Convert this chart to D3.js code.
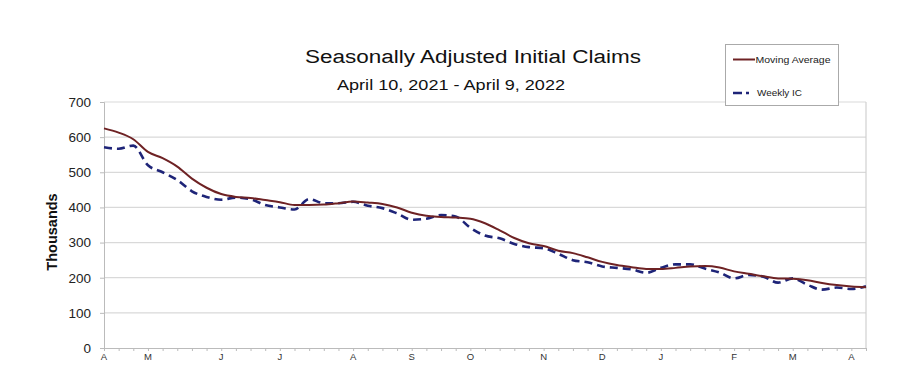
<!DOCTYPE html>
<html><head><meta charset="utf-8">
<script src="https://cdn.jsdelivr.net/npm/d3@7"></script>
<style>body{margin:0;background:#fff}svg{display:block;font-family:"Liberation Sans",Arial,sans-serif}</style>
</head><body><svg id="c" width="900" height="374"></svg>
<script>
const title = "Seasonally Adjusted Initial Claims";
const subtitle = "April 10, 2021 - April 9, 2022";
const yLabel = "Thousands";
const weeks = d3.range(53); // week index 0 = Apr 10 2021 ... 52 = Apr 9 2022
const movingAverage = [625,613,594,558,540,516,482,456,438,430,427,421,415,407,407,408,412,417,414,410,400,385,376,373,371,368,355,335,313,298,290,277,270,258,245,236,230,225,225,228,232,233,229,218,211,204,198,197,193,185,179,175,173];
const weeklyIC = [571,567,576,520,500,478,446,430,422,428,423,407,400,394,424,412,412,416,405,398,383,365,368,378,374,342,320,312,296,287,284,268,250,244,232,228,224,214,228,238,238,226,215,198,208,203,186,198,180,166,172,168,176];
const monthLabels = ["A","M","J","J","A","S","O","N","D","J","F","M","A"];
const monthWeekIdx = [0,3,8,12,17,21,25,30,34,38,43,47,51];
const yTicks = [0,100,200,300,400,500,600,700];
const legendLabels = ["Moving Average","Weekly IC"];

const svg = d3.select("#c");
const x = d3.scaleLinear().domain([0,52]).range([104,866]);
const y = d3.scaleLinear().domain([0,700]).range([348,102]);

// gridlines
svg.append("g").selectAll("line").data(yTicks.filter(d=>d>0)).join("line")
  .attr("x1",104).attr("x2",866).attr("y1",d=>y(d)).attr("y2",d=>y(d))
  .attr("stroke","#d9d9d9").attr("stroke-width",1.2);
svg.append("line").attr("x1",866).attr("x2",866).attr("y1",102).attr("y2",348).attr("stroke","#d0d0d0").attr("stroke-width",1.2);

// y axis
const ya = svg.append("g").attr("transform","translate(104,0)")
  .call(d3.axisLeft(y).tickValues(yTicks).tickSize(4).tickPadding(9));
ya.select(".domain").attr("stroke","#bbb");
ya.selectAll(".tick line").attr("stroke","#bbb");
ya.selectAll("text").attr("font-size",13.5).attr("fill","#222");

// x axis weekly ticks
const xa = svg.append("g").attr("transform","translate(0,348)")
  .call(d3.axisBottom(x).tickValues(weeks).tickSize(3).tickFormat(""));
xa.select(".domain").attr("stroke","#bbb");
xa.selectAll(".tick line").attr("stroke","#bbb");
svg.append("g").selectAll("text").data(monthWeekIdx).join("text")
  .attr("x",d=>x(d)).attr("y",360).attr("text-anchor","middle")
  .attr("font-size",9.5).attr("fill","#333").text((d,i)=>monthLabels[i]);

// lines
const line = arr => d3.line().x((d,i)=>x(i)).y(d=>y(d)).curve(d3.curveMonotoneX)(arr);
svg.append("path").attr("d",line(weeklyIC)).attr("fill","none")
  .attr("stroke","#1e2478").attr("stroke-width",2.6).attr("stroke-dasharray","8,5");
svg.append("path").attr("d",line(movingAverage)).attr("fill","none")
  .attr("stroke","#6e2224").attr("stroke-width",2);

// titles
svg.append("text").attr("x",305).attr("y",63)
  .attr("font-size",18).attr("fill","#111")
  .attr("textLength",336).attr("lengthAdjust","spacingAndGlyphs").text(title);
svg.append("text").attr("x",337).attr("y",90)
  .attr("font-size",14.5).attr("fill","#111")
  .attr("textLength",228).attr("lengthAdjust","spacingAndGlyphs").text(subtitle);
svg.append("text").attr("transform","translate(57,232) rotate(-90)").attr("text-anchor","middle")
  .attr("font-size",14.5).attr("font-weight","bold").attr("fill","#111").text(yLabel);

// legend
const lg = svg.append("g");
lg.append("rect").attr("x",725.5).attr("y",44.5).attr("width",113).attr("height",61)
  .attr("fill","#fff").attr("stroke","#aaa");
lg.append("line").attr("x1",733).attr("x2",755).attr("y1",59.5).attr("y2",59.5)
  .attr("stroke","#6e2224").attr("stroke-width",2);
lg.append("line").attr("x1",733).attr("x2",749).attr("y1",93).attr("y2",93)
  .attr("stroke","#1e2478").attr("stroke-width",2.4).attr("stroke-dasharray","9,4,3,4");
lg.selectAll("text.l").data(legendLabels).join("text").attr("class","l")
  .attr("x",(d,i)=>i?757:755.5).attr("y",(d,i)=>i?96:62.5)
  .attr("font-size",9.5).attr("fill","#222")
  .attr("textLength",(d,i)=>i?45:75).attr("lengthAdjust","spacingAndGlyphs").text(d=>d);
</script></body></html>
